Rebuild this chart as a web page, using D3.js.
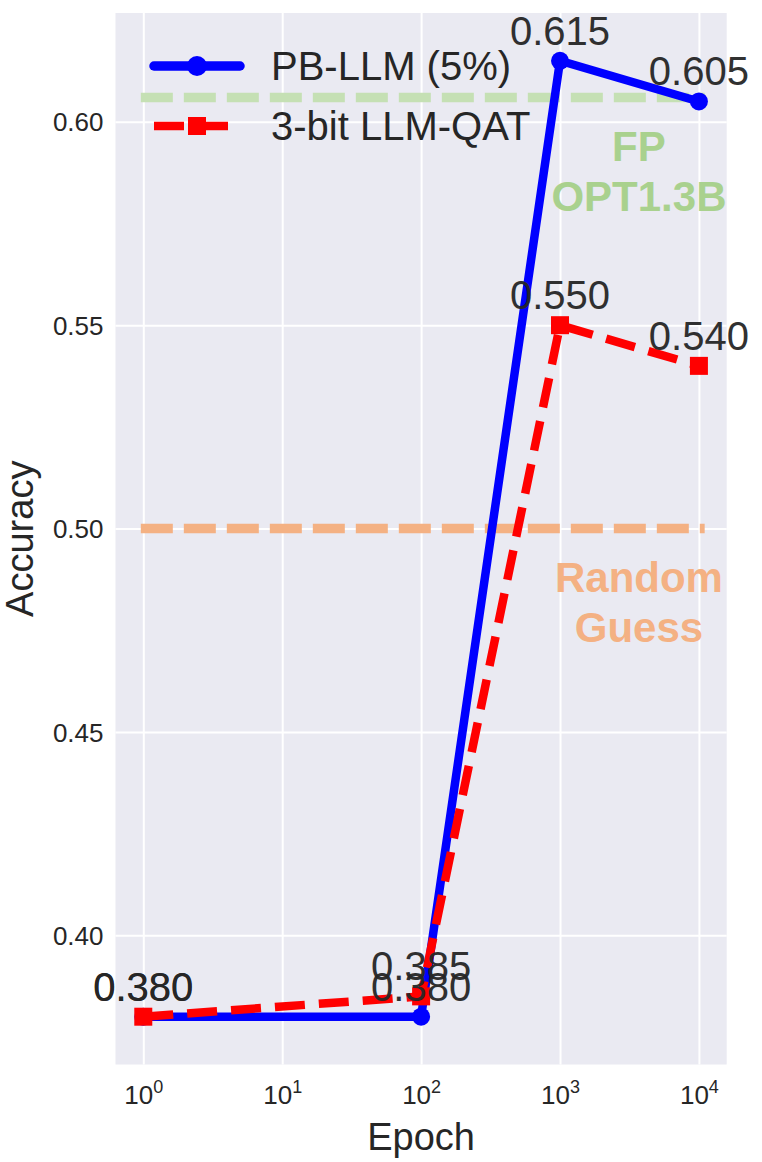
<!DOCTYPE html>
<html>
<head>
<meta charset="utf-8">
<script src="https://cdn.jsdelivr.net/npm/d3@7"></script>
<style>
  html, body { margin: 0; padding: 0; background: #ffffff; }
  svg { display: block; font-family: "Liberation Sans", Arial, sans-serif; }
</style>
</head>
<body>
<svg id="chart" width="762" height="1162"></svg>
<script>
// ---------- data ----------
const epochs = [1, 100, 1000, 10000];
const pbllm = [0.380, 0.380, 0.615, 0.605];
const qat = [0.380, 0.385, 0.550, 0.540];
const seriesNames = ["PB-LLM (5%)", "3-bit LLM-QAT"];
const fpAccuracy = 0.606;
const randomAccuracy = 0.500;
const refLineSpan = [0.96, 11000];
const xTicks = [1, 10, 100, 1000, 10000];
const yTicks = [0.40, 0.45, 0.50, 0.55, 0.60];
const fpLabel = ["FP", "OPT1.3B"];
const randomLabel = ["Random", "Guess"];

// ---------- layout ----------
const svg = d3.select("#chart");
const plot = { left: 115.5, right: 726.7, top: 13, bottom: 1064.5 };
const textColor = "#262626";

const allY = pbllm.concat(qat);
const yMin = d3.min(allY), yMax = d3.max(allY);
const yPad = (yMax - yMin) * 0.05;
const lx0 = Math.log10(d3.min(epochs)), lx1 = Math.log10(d3.max(epochs));
const xPad = (lx1 - lx0) * 0.05;

const x = d3.scaleLog().domain([Math.pow(10, lx0 - xPad), Math.pow(10, lx1 + xPad)])
  .range([plot.left, plot.right]);
const y = d3.scaleLinear().domain([yMin - yPad, yMax + yPad])
  .range([plot.bottom, plot.top]);

// background
svg.append("rect")
  .attr("x", plot.left).attr("y", plot.top)
  .attr("width", plot.right - plot.left).attr("height", plot.bottom - plot.top)
  .attr("fill", "#eaeaf2");

// grid
const gx = svg.append("g").attr("transform", `translate(0,${plot.bottom})`)
  .call(d3.axisBottom(x).tickValues(xTicks).tickSize(-(plot.bottom - plot.top)).tickFormat(""));
const gy = svg.append("g").attr("transform", `translate(${plot.left},0)`)
  .call(d3.axisLeft(y).tickValues(yTicks).tickSize(-(plot.right - plot.left)).tickFormat(""));
[gx, gy].forEach(g => {
  g.select(".domain").remove();
  g.selectAll(".tick line").attr("stroke", "#ffffff").attr("stroke-width", 2);
});

// tick labels
gy.selectAll(".tick").append("text")
  .attr("x", -12).attr("dy", "0.35em")
  .attr("text-anchor", "end")
  .attr("fill", textColor).attr("font-size", 26)
  .text(d => d3.format(".2f")(d));

gx.selectAll(".tick").each(function(d) {
  const t = d3.select(this).append("text")
    .attr("y", 39).attr("text-anchor", "middle")
    .attr("fill", textColor).attr("font-size", 26);
  t.append("tspan").text("10");
  t.append("tspan").attr("font-size", 18).attr("dy", -11).text(String(Math.round(Math.log10(d))));
});

// axis labels
svg.append("text")
  .attr("x", (plot.left + plot.right) / 2).attr("y", 1150)
  .attr("text-anchor", "middle").attr("fill", textColor).attr("font-size", 38)
  .text("Epoch");
svg.append("text")
  .attr("transform", `translate(33,${(plot.top + plot.bottom) / 2}) rotate(-90)`)
  .attr("text-anchor", "middle").attr("fill", textColor).attr("font-size", 38)
  .text("Accuracy");

// reference lines
const refLine = (val, color) => svg.append("line")
  .attr("x1", x(refLineSpan[0])).attr("x2", x(refLineSpan[1]))
  .attr("y1", y(val)).attr("y2", y(val))
  .attr("stroke", color).attr("stroke-width", 9.5)
  .attr("stroke-dasharray", "32,11");
refLine(fpAccuracy, "#c5e0b4");
refLine(randomAccuracy, "#f4b183");

// annotations
const annX = 3700;
function annot(lines, color, yVal) {
  const t = svg.append("text")
    .attr("x", x(annX)).attr("y", y(yVal))
    .attr("text-anchor", "middle").attr("fill", color)
    .attr("font-size", 42).attr("font-weight", "bold");
  lines.forEach((l, i) => t.append("tspan").attr("x", x(annX)).attr("dy", i === 0 ? 0 : 50).text(l));
}
annot(fpLabel, "#a9d18e", 0.5903);
annot(randomLabel, "#f4b183", 0.4845);

// series
const pts = vals => epochs.map((e, i) => [e, vals[i]]);
const line = d3.line().x(d => x(d[0])).y(d => y(d[1]));

svg.append("path").datum(pts(pbllm))
  .attr("d", line).attr("fill", "none")
  .attr("stroke", "#0000ff").attr("stroke-width", 8.5)
  .attr("stroke-linejoin", "round").attr("stroke-linecap", "round");
svg.append("g").selectAll("circle").data(pts(pbllm)).join("circle")
  .attr("cx", d => x(d[0])).attr("cy", d => y(d[1])).attr("r", 9)
  .attr("fill", "#0000ff");

svg.append("path").datum(pts(qat))
  .attr("d", line).attr("fill", "none")
  .attr("stroke", "#ff0000").attr("stroke-width", 8.5)
  .attr("stroke-dasharray", "30,14");
svg.append("g").selectAll("rect").data(pts(qat)).join("rect")
  .attr("x", d => x(d[0]) - 9).attr("y", d => y(d[1]) - 9)
  .attr("width", 18).attr("height", 18)
  .attr("fill", "#ff0000");

// value labels
const fmt = d3.format(".3f");
[pbllm, qat].forEach(vals => {
  svg.append("g").selectAll("text").data(pts(vals)).join("text")
    .attr("x", d => x(d[0])).attr("y", d => y(d[1]) - 16)
    .attr("text-anchor", "middle").attr("fill", textColor).attr("font-size", 40)
    .attr("opacity", 0.95)
    .text(d => fmt(d[1]));
});

// legend
const leg = svg.append("g");
const legRows = [
  { name: seriesNames[0], color: "#0000ff", dash: null, marker: "circle", y: 66 },
  { name: seriesNames[1], color: "#ff0000", dash: "30,14", marker: "square", y: 126 }
];
legRows.forEach(r => {
  leg.append("line")
    .attr("x1", 154).attr("x2", 240).attr("y1", r.y).attr("y2", r.y)
    .attr("stroke", r.color).attr("stroke-width", r.dash ? 8.5 : 9.5)
    .attr("stroke-linecap", r.dash ? "butt" : "round")
    .attr("stroke-dasharray", r.dash);
  if (r.marker === "circle") {
    leg.append("circle").attr("cx", 197).attr("cy", r.y).attr("r", 10).attr("fill", r.color);
  } else {
    leg.append("rect").attr("x", 188).attr("y", r.y - 9).attr("width", 18).attr("height", 18).attr("fill", r.color);
  }
  leg.append("text").attr("x", 271).attr("y", r.y + 14)
    .attr("fill", textColor).attr("font-size", 40).text(r.name);
});
</script>
</body>
</html>
